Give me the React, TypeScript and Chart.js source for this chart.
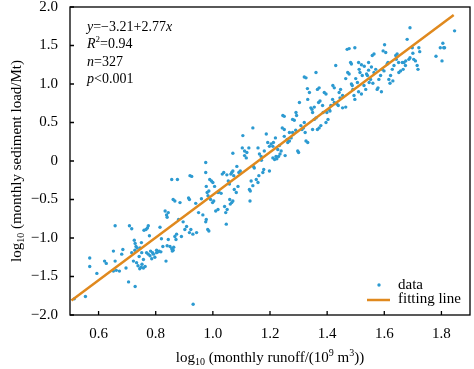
import React, { useEffect, useRef } from "react";
import { Chart, registerables } from "chart.js";

Chart.register(...registerables);

// [log10 monthly runoff, log10 monthly sediment load]
const lowRunoff: [number, number][] = [
  [0.515, -1.79], [0.554, -1.76], [0.569, -1.26], [0.569, -1.37], [0.594, -1.46], [0.621, -1.30], [0.627, -1.33],
  [0.652, -1.17], [0.658, -0.84], [0.658, -1.30], [0.662, -1.42], [0.652, -1.43], [0.673, -1.43], [0.681, -1.21],
  [0.685, -1.15], [0.696, -1.39],
  [0.705, -1.57], [0.708, -0.84], [0.716, -0.88], [0.716, -1.19], [0.722, -1.30], [0.725, -1.03], [0.728, -1.07],
  [0.731, -1.11], [0.735, -1.13], [0.727, -1.16], [0.728, -1.63], [0.733, -1.32], [0.738, -1.36], [0.742, -1.24],
  [0.744, -1.40], [0.752, -1.34], [0.749, -1.38], [0.757, -1.28], [0.745, -1.13], [0.751, -1.19], [0.75, -1.06],
  [0.759, -0.90], [0.766, -0.89], [0.771, -0.87], [0.774, -0.84], [0.768, -1.19], [0.774, -1.21], [0.78, -1.23],
  [0.782, -1.17], [0.786, -1.27], [0.789, -1.19], [0.792, -1.21], [0.797, -1.25], [0.803, -1.19], [0.803, -1.16],
  [0.809, -1.18], [0.812, -1.17], [0.778, -0.97], [0.757, -1.39], [0.763, -1.37],
  [0.815, -0.86], [0.82, -1.01], [0.818, -1.18], [0.825, -1.11], [0.833, -0.65], [0.838, -0.70], [0.84, -0.73],
  [0.844, -0.67], [0.836, -1.30], [0.84, -1.10], [0.844, -1.02], [0.85, -1.11], [0.856, -1.14], [0.858, -1.17],
  [0.861, -1.16], [0.863, -1.12], [0.856, -0.24], [0.876, -0.24], [0.861, -0.50], [0.867, -0.52], [0.867, -0.98],
  [0.871, -1.02], [0.873, -0.95], [0.885, -0.54], [0.896, -0.79], [0.902, -0.89], [0.908, -0.85], [0.88, -0.76],
  [0.89, -0.98],
];

const midRunoff: [number, number][] = [
  [0.915, -0.48], [0.918, -0.50], [0.92, -0.19], [0.926, -0.20], [0.918, -0.93], [0.923, -0.89], [0.93, -0.95],
  [0.931, -1.86], [0.943, -0.93], [0.95, -0.67], [0.96, -0.49], [0.975, -0.02], [0.975, -0.15], [0.977, -0.33],
  [0.98, -0.41], [0.983, -0.45], [0.986, -0.39], [0.977, -0.76], [0.975, -0.79], [0.982, -0.89], [0.986, -0.91],
  [0.989, -0.24], [0.995, -0.26], [1.0, -0.28], [0.992, -0.50], [0.999, -0.54], [1.003, -0.52], [0.94, -0.55],
  [0.965, -0.70],
  [1.006, -0.33], [1.01, -0.65], [1.018, -0.63], [1.021, -0.40], [1.029, -0.42], [1.018, -0.41], [1.033, -0.17],
  [1.038, -0.15], [1.047, -0.82], [1.041, -0.59], [1.045, -0.67], [1.05, -0.63], [1.059, -0.50], [1.061, -0.56],
  [1.066, -0.54], [1.07, -0.52], [1.054, -0.26], [1.058, -0.30], [1.063, -0.17], [1.066, -0.15], [1.07, -0.13],
  [1.073, -0.19], [1.07, 0.10], [1.084, -0.07], [1.091, -0.15], [1.096, -0.13], [1.075, -0.37], [1.082, -0.41],
  [1.049, -0.18], [1.088, -0.33],
  [1.105, 0.33], [1.103, 0.17], [1.111, 0.13], [1.119, 0.11], [1.126, 0.17], [1.111, 0.07], [1.117, 0.04],
  [1.128, -0.37], [1.131, -0.39], [1.13, -0.52], [1.134, -0.26], [1.14, -0.32], [1.14, 0.43], [1.142, -0.07],
  [1.145, -0.09], [1.152, -0.24], [1.158, -0.28], [1.161, -0.19], [1.158, 0.17], [1.163, 0.09], [1.169, 0.06],
  [1.175, -0.15], [1.178, -0.11], [1.187, 0.35], [1.192, 0.24], [1.198, 0.19], [1.204, 0.22], [1.21, 0.19],
  [1.212, 0.24], [1.198, -0.13], [1.18, 0.13], [1.17, 0.01],
  [1.21, 0.04], [1.216, 0.02], [1.221, 0.06], [1.224, 0.03], [1.219, 0.30], [1.227, 0.15], [1.233, 0.20],
  [1.239, 0.13], [1.245, 0.59], [1.25, 0.58], [1.243, 0.43], [1.25, 0.41], [1.253, 0.07], [1.235, 0.09],
  [1.23, 0.06], [1.262, 0.24], [1.268, 0.26], [1.274, 0.30], [1.279, 0.37], [1.282, 0.35], [1.268, 0.37],
  [1.279, 0.54], [1.285, 0.53], [1.291, 0.63], [1.293, 0.59], [1.297, 0.13], [1.3, 0.11], [1.26, 0.28],
  [1.29, 0.40], [1.25, 0.32],
];

const highRunoff: [number, number][] = [
  [1.303, 0.76], [1.308, 0.46], [1.312, 0.41], [1.317, 0.43], [1.32, 0.50], [1.323, 0.37], [1.326, 0.26],
  [1.332, 0.24], [1.32, 1.09], [1.326, 1.08], [1.332, 0.80], [1.338, 0.89], [1.343, 0.69], [1.347, 0.67],
  [1.349, 0.63], [1.355, 0.54], [1.361, 0.56], [1.331, 0.94], [1.361, 1.15], [1.366, 0.93], [1.372, 0.95],
  [1.37, 0.76], [1.375, 0.78], [1.366, 0.41], [1.372, 0.43], [1.378, 0.46], [1.349, 0.41], [1.384, 0.72],
  [1.386, 0.63], [1.39, 0.89], [1.396, 0.87], [1.399, 0.63], [1.396, 0.50], [1.355, 0.70],
  [1.403, 0.54], [1.407, 0.67], [1.41, 0.65], [1.413, 0.72], [1.419, 0.80], [1.425, 0.76], [1.42, 0.98],
  [1.425, 0.95], [1.43, 1.24], [1.434, 0.74], [1.439, 0.72], [1.442, 0.89], [1.447, 0.93], [1.454, 0.69],
  [1.454, 0.85], [1.465, 1.07], [1.47, 1.45], [1.477, 1.46], [1.472, 1.15], [1.477, 1.13], [1.482, 1.28],
  [1.485, 1.26], [1.488, 0.98], [1.49, 0.93], [1.494, 0.85], [1.497, 0.80], [1.497, 1.47], [1.5, 1.07],
  [1.506, 1.02], [1.445, 0.82], [1.465, 0.70], [1.485, 1.00],
  [1.51, 1.28], [1.512, 1.19], [1.515, 1.15], [1.523, 1.11], [1.529, 0.98], [1.535, 0.93], [1.538, 1.13],
  [1.541, 1.11], [1.545, 1.28], [1.547, 1.02], [1.552, 1.06], [1.558, 1.37], [1.564, 1.39], [1.564, 1.15],
  [1.57, 1.19], [1.575, 0.93], [1.578, 0.95], [1.581, 1.06], [1.587, 1.11], [1.593, 1.19], [1.599, 1.17],
  [1.596, 1.43], [1.605, 1.41], [1.601, 1.51], [1.51, 0.90], [1.52, 0.87], [1.53, 1.23], [1.555, 1.22],
  [1.59, 0.90], [1.56, 1.01], [1.52, 1.25], [1.545, 1.18],
  [1.61, 1.26], [1.613, 1.28], [1.616, 1.06], [1.622, 1.11], [1.628, 1.19], [1.634, 1.24], [1.64, 1.37],
  [1.642, 1.32], [1.645, 1.39], [1.651, 1.15], [1.657, 1.17], [1.663, 1.28], [1.666, 1.19], [1.669, 1.28],
  [1.674, 1.24], [1.68, 1.58], [1.686, 1.32], [1.69, 1.34], [1.69, 1.73], [1.698, 1.47], [1.703, 1.32],
  [1.709, 1.30], [1.715, 1.24], [1.718, 1.19], [1.721, 1.47], [1.724, 1.42], [1.62, 1.01], [1.63, 1.04],
  [1.65, 1.28], [1.675, 1.30], [1.70, 1.40],
  [1.781, 1.36], [1.796, 1.47], [1.802, 1.30], [1.805, 1.53], [1.808, 1.47], [1.811, 1.47], [1.846, 1.69],
];

// fitted line y = -3.21 + 2.77x, end points
const fitX = [0.505, 1.843];
const fitY = [-1.811, 1.895];

const xTicks = [0.6, 0.8, 1.0, 1.2, 1.4, 1.6, 1.8];
const yTicks = [-2.0, -1.5, -1.0, -0.5, 0, 0.5, 1.0, 1.5, 2.0];

const BLUE = "#2c9ad1";
const ORANGE = "#e0891e";
const FONT = "'Liberation Serif', 'Times New Roman', serif";

type Seg = { t: string; i?: boolean; sup?: boolean; sub?: boolean };

function drawSegs(ctx: CanvasRenderingContext2D, segs: Seg[], x: number, y: number, size: number, align: "left" | "center") {
  const fontFor = (s: Seg) => {
    const sz = s.sup || s.sub ? Math.round(size * 0.65) : size;
    return `${s.i ? "italic " : ""}${sz}px ${FONT}`;
  };
  let total = 0;
  for (const s of segs) {
    ctx.font = fontFor(s);
    total += ctx.measureText(s.t).width;
  }
  let cx = align === "center" ? x - total / 2 : x;
  ctx.textBaseline = "alphabetic";
  ctx.textAlign = "left";
  for (const s of segs) {
    ctx.font = fontFor(s);
    const dy = s.sup ? -size * 0.4 : s.sub ? size * 0.2 : 0;
    ctx.fillText(s.t, cx, y + dy);
    cx += ctx.measureText(s.t).width;
  }
}

const framePlugin = {
  id: "frame",
  afterDraw(chart: any) {
    const ctx: CanvasRenderingContext2D = chart.ctx;
    const { left, right, top, bottom } = chart.chartArea;
    const xs = chart.scales.x;
    const ys = chart.scales.y;
    ctx.save();
    ctx.strokeStyle = "#000";
    ctx.lineWidth = 1.3;
    ctx.strokeRect(left, top, right - left, bottom - top);
    ctx.beginPath();
    for (const v of xTicks) {
      const px = xs.getPixelForValue(v);
      ctx.moveTo(px, bottom);
      ctx.lineTo(px, bottom - 4);
    }
    for (const v of yTicks) {
      const py = ys.getPixelForValue(v);
      ctx.moveTo(left, py);
      ctx.lineTo(left + 4, py);
    }
    ctx.stroke();

    ctx.fillStyle = "#000";
    // annotation
    const ax = left + 17;
    drawSegs(ctx, [{ t: "y", i: true }, { t: "=\u22123.21+2.77" }, { t: "x", i: true }], ax, top + 24, 14, "left");
    drawSegs(ctx, [{ t: "R", i: true }, { t: "2", sup: true }, { t: "=0.94" }], ax, top + 41, 14, "left");
    drawSegs(ctx, [{ t: "n", i: true }, { t: "=327" }], ax, top + 59, 14, "left");
    drawSegs(ctx, [{ t: "p", i: true }, { t: "<0.001" }], ax, top + 76, 14, "left");

    // axis titles
    drawSegs(
      ctx,
      [{ t: "log" }, { t: "10", sub: true }, { t: " (monthly runoff/(10" }, { t: "9", sup: true }, { t: " m" }, { t: "3", sup: true }, { t: "))" }],
      (left + right) / 2 + 0,
      362,
      15,
      "center"
    );
    ctx.save();
    ctx.translate(21, (top + bottom) / 2);
    ctx.rotate(-Math.PI / 2);
    drawSegs(ctx, [{ t: "log" }, { t: "10", sub: true }, { t: " (monthly sediment load/Mt)" }], 0, 0, 15, "center");
    ctx.restore();

    // legend
    const lx = right - 91;
    ctx.fillStyle = BLUE;
    ctx.beginPath();
    ctx.arc(lx, bottom - 30, 1.7, 0, Math.PI * 2);
    ctx.fill();
    ctx.strokeStyle = ORANGE;
    ctx.lineWidth = 2.5;
    ctx.beginPath();
    ctx.moveTo(lx - 12, bottom - 15);
    ctx.lineTo(lx + 11, bottom - 15);
    ctx.stroke();
    ctx.fillStyle = "#000";
    ctx.font = `15px ${FONT}`;
    ctx.textBaseline = "middle";
    ctx.textAlign = "left";
    ctx.fillText("data", lx + 19, bottom - 30);
    ctx.fillText("fitting line", lx + 19, bottom - 16);
    ctx.restore();
  },
};

export default function App() {
  const ref = useRef<HTMLCanvasElement | null>(null);
  useEffect(() => {
    document.body.style.margin = "0";
    const canvas = ref.current!;
    const points = [...lowRunoff, ...midRunoff, ...highRunoff];
    const tickFont = { family: FONT, size: 15 };
    const chart = new Chart(canvas, {
      type: "scatter",
      data: {
        datasets: [
          {
            type: "line",
            label: "fitting line",
            data: fitX.map((x, i) => ({ x, y: fitY[i] })),
            borderColor: ORANGE,
            borderWidth: 2.5,
            pointRadius: 0,
            order: 0,
          } as any,
          {
            type: "scatter",
            label: "data",
            data: points.map(([x, y]) => ({ x, y })),
            backgroundColor: BLUE,
            borderWidth: 0,
            pointRadius: 1.7,
            order: 1,
          },
        ],
      },
      options: {
        responsive: false,
        animation: false,
        layout: { padding: { top: 7, right: 1, left: 0, bottom: 0 } },
        plugins: { legend: { display: false }, tooltip: { enabled: false } },
        scales: {
          x: {
            type: "linear",
            min: 0.5,
            max: 1.9,
            grid: { display: false, drawTicks: false },
            border: { display: false },
            ticks: { font: tickFont, color: "#000", padding: 10, callback: (v: any) => Number(v).toFixed(1) },
            afterBuildTicks: (s: any) => {
              s.ticks = xTicks.map((v) => ({ value: v }));
            },
            afterFit: (s: any) => {
              s.height = 54;
              s.paddingLeft = 0;
              s.paddingRight = 0;
            },
          },
          y: {
            type: "linear",
            min: -2,
            max: 2,
            grid: { display: false, drawTicks: false },
            border: { display: false },
            ticks: {
              font: tickFont,
              color: "#000",
              padding: 12,
              callback: (v: any) => (Number(v) === 0 ? "0" : Number(v).toFixed(1).replace("-", "\u2212")),
            },
            afterBuildTicks: (s: any) => {
              s.ticks = yTicks.map((v) => ({ value: v }));
            },
            afterFit: (s: any) => {
              s.width = 70;
              s.paddingTop = 0;
              s.paddingBottom = 0;
            },
          },
        },
      },
      plugins: [framePlugin],
    });
    return () => chart.destroy();
  }, []);
  return <canvas ref={ref} width={474} height={369} style={{ display: "block" }} />;
}
